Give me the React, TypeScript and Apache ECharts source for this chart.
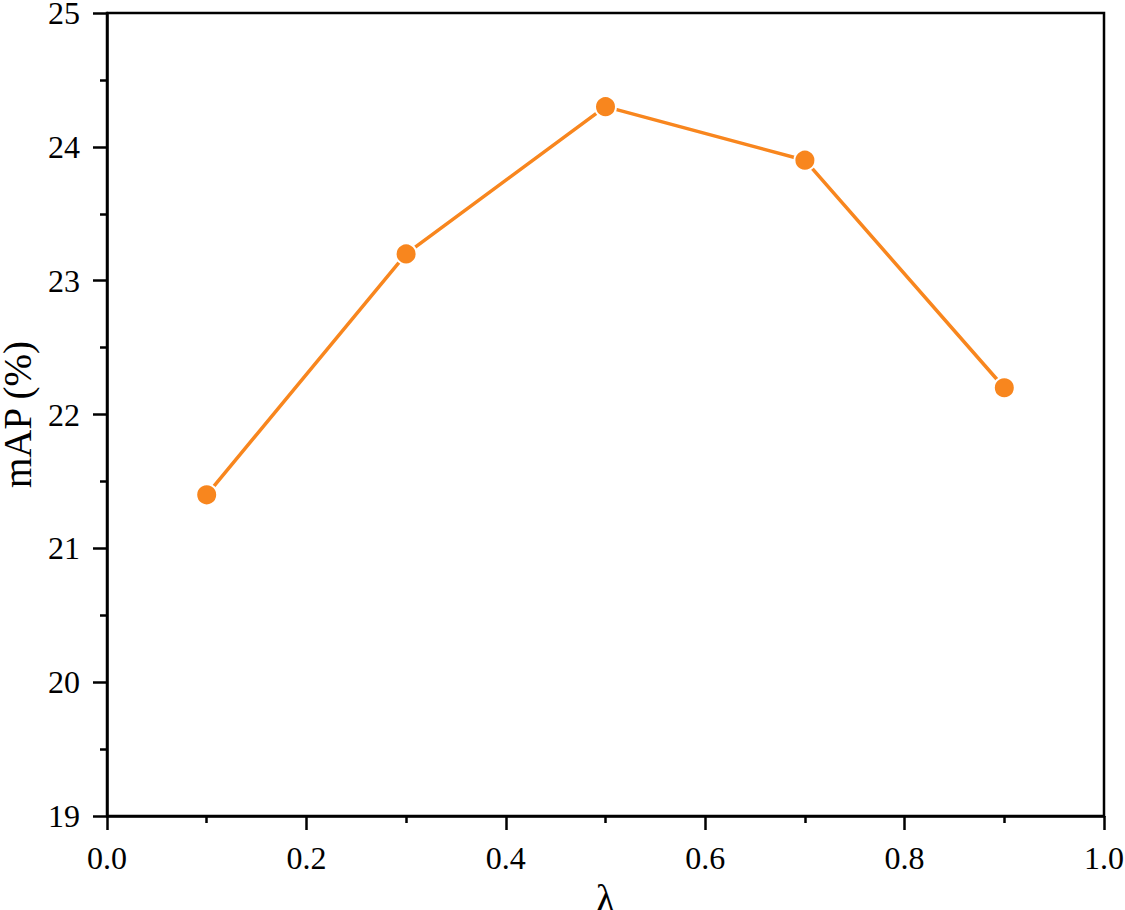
import React, { useEffect, useRef } from 'react';
import * as echarts from 'echarts';

const lambdas = [0.1, 0.3, 0.5, 0.7, 0.9];
const mapValues = [21.4, 23.2, 24.3, 23.9, 22.2];

const FONT = '"Liberation Serif", "Times New Roman", serif';
const ORANGE = '#F8861E';

export default function App() {
    const chartRef = useRef<HTMLDivElement>(null);

    useEffect(() => {
        if (!chartRef.current) return;
        const chart = echarts.init(chartRef.current, undefined, { renderer: 'svg' });

        const axisCommon = {
            axisLine: { show: true, onZero: false, lineStyle: { color: '#000', width: 2.5 } },
            axisTick: { show: true, inside: false, length: 14, lineStyle: { color: '#000', width: 2.5 } },
            minorTick: { show: true, splitNumber: 2, length: 7, lineStyle: { color: '#000', width: 2.5 } },
            splitLine: { show: false },
            axisLabel: { color: '#000', fontFamily: FONT, fontSize: 32 },
        };

        chart.setOption({
            animation: false,
            backgroundColor: '#fff',
            grid: {
                left: 107, right: 21, top: 13, bottom: 94,
                outerBoundsMode: 'none',
                containLabel: false,
                show: true, borderColor: '#000', borderWidth: 2.5,
            },
            xAxis: {
                ...axisCommon,
                type: 'value',
                min: 0, max: 1, interval: 0.2,
                name: 'λ',
                nameLocation: 'middle',
                nameGap: 45,
                nameTextStyle: { color: '#000', fontFamily: FONT, fontSize: 40 },
                axisLabel: { ...axisCommon.axisLabel, margin: 26, formatter: (v: number) => v.toFixed(1) },
            },
            yAxis: {
                ...axisCommon,
                type: 'value',
                min: 19, max: 25, interval: 1,
                name: 'mAP (%)',
                nameLocation: 'middle',
                nameGap: 63,
                nameTextStyle: { color: '#000', fontFamily: FONT, fontSize: 39 },
                axisLabel: { ...axisCommon.axisLabel, margin: 27 },
            },
            series: [
                {
                    type: 'line',
                    data: lambdas.map((x, i) => [x, mapValues[i]]),
                    symbol: 'circle',
                    symbolSize: 21,
                    lineStyle: { color: ORANGE, width: 3.5 },
                    itemStyle: { color: ORANGE, borderColor: '#fff', borderWidth: 2 },
                },
            ],
        });

        return () => chart.dispose();
    }, []);

    return (
        <div
            ref={chartRef}
            style={{ position: 'absolute', left: 0, top: 0, width: 1125, height: 910 }}
        />
    );
}
